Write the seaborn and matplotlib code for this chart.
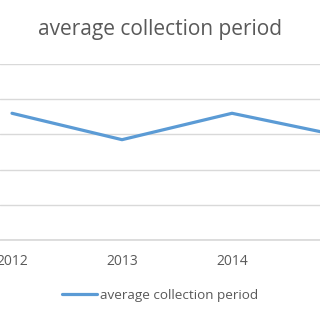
import matplotlib.pyplot as plt
import pandas as pd
import seaborn as sns

# data (visible part of the chart; y labels are cropped in the original)
years = [2012, 2013, 2014, 2015]
period = [36.0, 28.5, 36.0, 29.5]
y_ticks = [0, 10, 20, 30, 40, 50]

df = pd.DataFrame({"year": years, "average collection period": period})

sns.set_theme(style="white")
plt.rcParams["font.family"] = ["Open Sans", "DejaVu Sans"]

fig = plt.figure(figsize=(3.2, 3.2), dpi=100)
# axes span the full width so the chart looks cropped like the source
ax = fig.add_axes([0, 80 / 320, 1, 176 / 320])

sns.lineplot(data=df, x="year", y="average collection period", ax=ax,
             color="#5B9BD5", linewidth=2.3, label="average collection period",
             legend=False)

ax.set_yticks(y_ticks)
ax.set_yticklabels([])
ax.set_xticks(years)
ax.set_xticklabels([str(y) for y in years])
# limits after ticks, otherwise set_xticks widens the view
ax.set_xlim(2012 - 12 / 110, 2012 + 308 / 110)
ax.set_ylim(0, 50)
ax.tick_params(axis="x", length=0, pad=10, labelsize=10, colors="#595959")
ax.tick_params(axis="y", length=0)
ax.grid(axis="y", color="#d9d9d9", linewidth=1)
for s in ["top", "left", "right"]:
    ax.spines[s].set_visible(False)
ax.spines["bottom"].set_color("#d9d9d9")
ax.set_xlabel("")
ax.set_ylabel("")

fig.text(0.5, 1 - 30 / 320, "average collection period", ha="center", va="center",
         fontsize=15, color="#595959")

handles, labels = ax.get_legend_handles_labels()
fig.legend(handles, labels, loc="center", bbox_to_anchor=(0.5, 1 - 295 / 320),
           frameon=False, fontsize=9.7, labelcolor="#595959",
           handlelength=2.6, handletextpad=0.2)

fig.savefig("out.png", dpi=100)
